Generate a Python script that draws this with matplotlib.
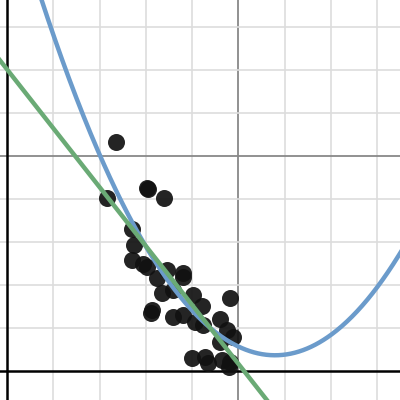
import numpy as np
import matplotlib
matplotlib.use("Agg")
import matplotlib.pyplot as plt

xs = [2.35,2.16,3.02,3.05,3.39,2.70,2.74,2.70,2.94,3.02,3.46,3.80,3.80,3.24,3.35,3.59,4.02,4.21,3.13,3.11,3.59,3.80,4.82,4.60,4.06,4.23,4.75,4.88,4.60,4.00,4.28,4.34,4.64,4.79,4.82]
ys = [5.33,4.02,4.26,4.23,4.02,3.30,2.93,2.58,2.49,2.42,2.35,2.28,2.19,2.16,1.81,1.88,1.77,1.51,1.42,1.35,1.26,1.30,1.70,1.21,1.14,1.07,0.95,0.79,0.67,0.30,0.33,0.19,0.26,0.09,0.21]
line_coef = [7.02, -1.37]          # intercept, slope
parab = [0.325, 5.79, 0.37]        # a, vertex x, vertex y

fig = plt.figure(figsize=(4, 4), dpi=100)
ax = fig.add_axes([0, 0, 1, 1])
ax.set_xlim(-0.15, 8.49)
ax.set_ylim(-0.67, 8.63)
for v in range(1, 9):
    ax.axvline(v, color='#888888' if v == 5 else '#dddddd', lw=1.3 if v == 5 else 1.2, zorder=0)
for v in range(1, 9):
    ax.axhline(v, color='#888888' if v == 5 else '#dddddd', lw=1.3 if v == 5 else 1.2, zorder=0)
ax.axhline(0, color='black', lw=1.8, zorder=1)
ax.axvline(0, color='black', lw=1.8, zorder=1)

xx = np.linspace(-0.2, 8.6, 400)
ax.plot(xx, parab[0] * (xx - parab[1])**2 + parab[2], color='#6b9bcb', lw=3.2, zorder=3)
ax.plot(xx, line_coef[0] + line_coef[1] * xx, color='#6aaa75', lw=3.2, zorder=3)
ax.scatter(xs, ys, s=150, color='#111111', alpha=0.92, linewidths=0, zorder=2)
ax.axis('off')
fig.savefig('out.png', dpi=100)
